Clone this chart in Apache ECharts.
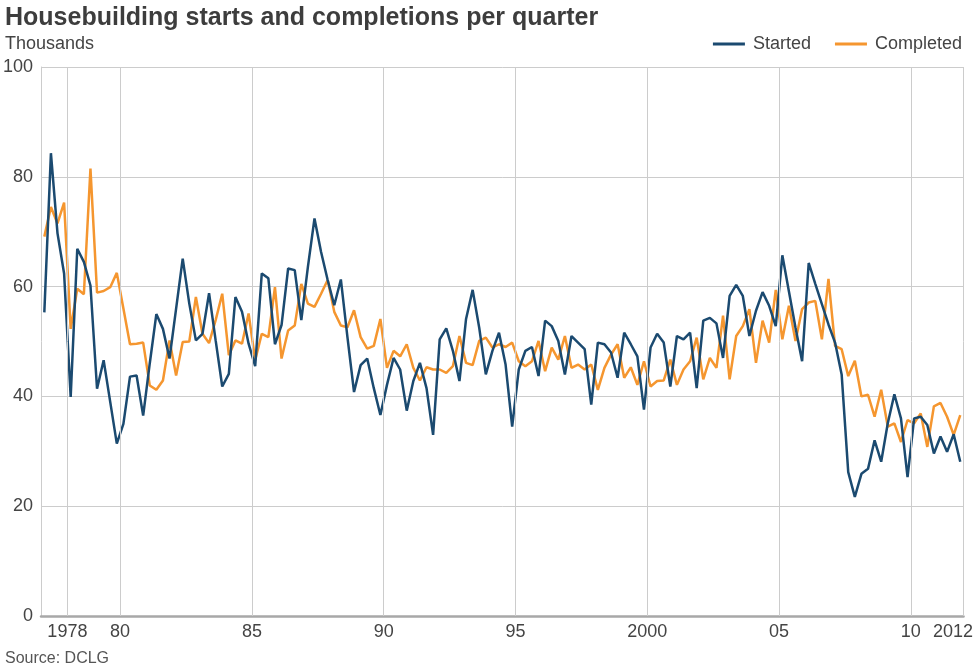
<html>
<head>
	<meta charset="UTF-8">
	<script src="https://cdn.jsdelivr.net/npm/echarts@6/dist/echarts.min.js"></script>
</head>
<body style="margin:0;">
<div id="chart" style="width: 976px;height:665px;"></div>

<script type="text/javascript">

        // quarterly figures, thousands, 1977 Q1 .. 2011 Q4
        var firstYear = 1977
        var started = [
            55.3, 84.3, 69.7, 62.4, 39.9, 66.9, 64.5, 60.2, 41.4, 46.6, 39.0, 31.4, 35.0, 43.6, 43.8, 36.5, 46.0, 55.0, 52.3, 46.9,
            56.0, 65.1, 56.9, 50.2, 51.4, 58.8, 50.2, 41.8, 44.1, 58.1, 55.4, 49.6, 45.5, 62.4, 61.5, 49.5, 53.0, 63.3, 63.0, 53.9,
            63.6, 72.4, 66.3, 61.2, 56.6, 61.3, 50.8, 40.8, 45.7, 46.9, 41.5, 36.6, 42.1, 47.0, 44.9, 37.4, 42.8, 46.1, 41.5, 33.0,
            50.4, 52.4, 48.3, 42.8, 54.1, 59.4, 52.5, 44.0, 48.3, 51.6, 45.8, 34.5, 44.9, 48.3, 49.0, 43.7, 53.8, 52.8, 50.1, 44.0,
            51.0, 49.8, 48.6, 38.5, 49.8, 49.5, 48.0, 43.4, 51.6, 49.5, 47.3, 37.6, 48.9, 51.4, 49.8, 41.8, 51.0, 50.4, 51.6, 41.5,
            53.8, 54.3, 53.3, 47.0, 58.3, 60.3, 58.3, 51.0, 55.6, 59.0, 56.5, 52.8, 65.7, 59.1, 52.5, 46.4, 64.3, 60.5, 56.8, 53.1,
            49.8, 44.0, 26.2, 21.7, 25.9, 26.8, 32.0, 28.1, 35.1, 40.4, 36.0, 25.3, 36.0, 36.3, 34.8, 29.6, 32.7, 29.9, 33.1, 28.1
        ]
        var completed = [
            69.1, 74.5, 71.5, 75.3, 52.3, 59.6, 58.6, 81.5, 58.9, 59.2, 59.9, 62.5, 56.0, 49.5, 49.6, 49.8, 42.0, 41.2, 42.9, 50.2,
            43.8, 49.9, 50.0, 58.1, 51.4, 49.7, 53.9, 58.7, 47.5, 50.2, 49.6, 55.1, 46.6, 51.4, 50.8, 59.9, 46.9, 52.0, 52.9, 60.5,
            56.9, 56.3, 58.7, 61.2, 55.4, 52.9, 52.6, 55.7, 50.8, 48.7, 49.2, 54.1, 45.2, 48.3, 47.3, 49.5, 45.2, 42.9, 45.3, 44.9,
            44.9, 44.3, 45.5, 51.0, 46.1, 45.7, 50.1, 50.7, 48.9, 49.5, 49.0, 49.8, 46.4, 45.5, 46.4, 50.1, 44.6, 48.9, 46.7, 51.0,
            45.2, 45.8, 44.9, 45.8, 41.2, 45.2, 47.6, 49.5, 43.4, 45.3, 42.1, 46.4, 41.8, 42.8, 42.9, 46.7, 42.1, 44.9, 46.4, 50.7,
            43.1, 47.0, 45.2, 54.7, 43.1, 51.0, 52.8, 55.9, 46.1, 53.8, 49.8, 59.4, 50.4, 56.5, 50.1, 55.9, 57.1, 57.4, 50.4, 61.4,
            49.2, 48.6, 43.7, 46.5, 40.0, 40.3, 36.3, 41.2, 34.5, 35.1, 31.7, 35.7, 35.1, 36.9, 30.8, 38.2, 38.8, 36.3, 33.0, 36.6
        ]
        // years that get a vertical grid line
        var gridYears = [1978, 1980, 1985, 1990, 1995, 2000, 2005, 2010, 2012]
        // where the year labels sit (the last one is pulled in so it fits the page)
        var labelYears = [1978, 1980, 1985, 1990, 1995, 2000, 2005, 2010, 2011.6]
        var labelTexts = ['1978', '80', '85', '90', '95', '2000', '05', '10', '2012']

        var FONT = 'Liberation Sans, Arial, sans-serif'

        // each quarter sits in the middle of its three months
        function quarterPos(i) {
            return firstYear + 0.125 + i * 0.25
        }
        var started_data = started.map(function (v, i) { return [quarterPos(i), v] })
        var completed_data = completed.map(function (v, i) { return [quarterPos(i), v] })

        var myChart = echarts.init(document.getElementById('chart'));

        var option = {
            animation: false,
            backgroundColor: '#fff',
            title: [
                {
                    text: 'Housebuilding starts and completions per quarter',
                    left: 0, top: 1,
                    textStyle: {fontFamily: FONT, fontSize: 25, fontWeight: 'bold', color: '#3d3d3d'}
                },
                {
                    text: 'Thousands',
                    left: 0, top: 30,
                    textStyle: {fontFamily: FONT, fontSize: 18, fontWeight: 'normal', color: '#444'}
                },
                {
                    text: 'Source: DCLG',
                    left: 0, top: 646,
                    textStyle: {fontFamily: FONT, fontSize: 16, fontWeight: 'normal', color: '#555'}
                }
            ],
            legend: {
                right: 9, top: 30,
                icon: 'rect',
                itemWidth: 32, itemHeight: 3, itemGap: 24,
                textStyle: {fontFamily: FONT, fontSize: 18, color: '#444', padding: [0, 0, 0, 3]},
                data: ['Started', 'Completed']
            },
            grid: {left: 38, right: 11, top: 67, bottom: 49},
            xAxis: {
                type: 'value',
                min: 1977, max: 2012,
                axisLine: {show: true, onZero: false, lineStyle: {color: '#a8a8a8', width: 2.5}},
                axisTick: {show: false},
                splitLine: {show: false},
                axisLabel: {
                    customValues: labelYears,
                    margin: 7,
                    fontFamily: FONT, fontSize: 18, color: '#444',
                    formatter: function (v) {
                        var k = labelYears.indexOf(v)
                        return k >= 0 ? labelTexts[k] : ''
                    }
                }
            },
            yAxis: {
                type: 'value',
                min: 0, max: 100, interval: 20,
                axisLine: {show: true, lineStyle: {color: '#cccccc', width: 1}},
                axisTick: {show: false},
                splitLine: {lineStyle: {color: '#cccccc', width: 1}},
                axisLabel: {margin: 8, fontFamily: FONT, fontSize: 18, color: '#444'}
            },
            series: [
                {
                    name: 'grid',
                    type: 'line',
                    data: [],
                    silent: true,
                    z: 1,
                    markLine: {
                        silent: true,
                        symbol: 'none',
                        animation: false,
                        label: {show: false},
                        lineStyle: {color: '#cccccc', width: 1, type: 'solid'},
                        data: gridYears.map(function (y) { return {xAxis: y} })
                    }
                },
                {
                    name: 'Completed',
                    type: 'line',
                    data: completed_data,
                    showSymbol: false,
                    z: 3,
                    itemStyle: {color: '#f5962f'},
                    lineStyle: {color: '#f5962f', width: 2.5}
                },
                {
                    name: 'Started',
                    type: 'line',
                    data: started_data,
                    showSymbol: false,
                    z: 4,
                    itemStyle: {color: '#1b4a70'},
                    lineStyle: {color: '#1b4a70', width: 2.5}
                }
            ]
        };

        myChart.setOption(option);

</script>
</body>
</html>
